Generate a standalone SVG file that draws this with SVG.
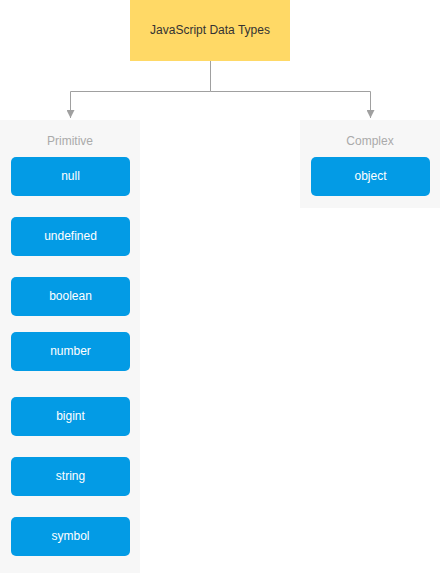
<svg xmlns="http://www.w3.org/2000/svg" width="444" height="577" viewBox="0 0 444 577">
<style>
.cont{fill:#f7f7f7;}
.clabel{font-family:"Liberation Sans",Arial,sans-serif;font-size:12px;fill:#aaaaaa;text-anchor:middle;}
.box{fill:#039be5;}
.blabel{font-family:"Liberation Sans",Arial,sans-serif;font-size:12px;fill:#ffffff;text-anchor:middle;}
.conn{stroke:#a0a0a0;stroke-width:1;fill:none;}
</style>
<defs>
<marker id="arr" viewBox="0 0 10 10" refX="10" refY="5" markerWidth="8" markerHeight="8" markerUnits="userSpaceOnUse" orient="auto">
<path d="M0,0 L10,5 L0,10 z" fill="#a0a0a0"/>
</marker>
</defs>
<rect width="444" height="577" fill="#ffffff"/>
<g id="primitive-container">
<rect class="cont" x="0" y="120" width="140" height="453"/>
<text class="clabel" x="70" y="145">Primitive</text>
</g>
<g id="complex-container">
<rect class="cont" x="300" y="120" width="140" height="88"/>
<text class="clabel" x="370" y="145">Complex</text>
</g>
<g id="connectors">
<path class="conn" d="M210.5,61 V91.5 H70.5 V118" marker-end="url(#arr)"/>
<path class="conn" d="M210.5,91.5 H370.5 V118" marker-end="url(#arr)"/>
</g>
<g id="title">
<rect x="130" y="0" width="160" height="61" fill="#ffd966"/>
<text x="210" y="34" font-family="'Liberation Sans',Arial,sans-serif" font-size="12" fill="#333333" text-anchor="middle">JavaScript Data Types</text>
</g>
<g id="null"><rect class="box" x="11" y="157" width="119" height="39" rx="5"/><text class="blabel" x="70.5" y="179.5">null</text></g>
<g id="undefined"><rect class="box" x="11" y="217" width="119" height="39" rx="5"/><text class="blabel" x="70.5" y="239.5">undefined</text></g>
<g id="boolean"><rect class="box" x="11" y="277" width="119" height="39" rx="5"/><text class="blabel" x="70.5" y="299.5">boolean</text></g>
<g id="number"><rect class="box" x="11" y="332" width="119" height="39" rx="5"/><text class="blabel" x="70.5" y="354.5">number</text></g>
<g id="bigint"><rect class="box" x="11" y="397" width="119" height="39" rx="5"/><text class="blabel" x="70.5" y="419.5">bigint</text></g>
<g id="string"><rect class="box" x="11" y="457" width="119" height="39" rx="5"/><text class="blabel" x="70.5" y="479.5">string</text></g>
<g id="symbol"><rect class="box" x="11" y="517" width="119" height="39" rx="5"/><text class="blabel" x="70.5" y="539.5">symbol</text></g>
<g id="object"><rect class="box" x="311" y="157" width="119" height="39" rx="5"/><text class="blabel" x="370.5" y="179.5">object</text></g>
</svg>
